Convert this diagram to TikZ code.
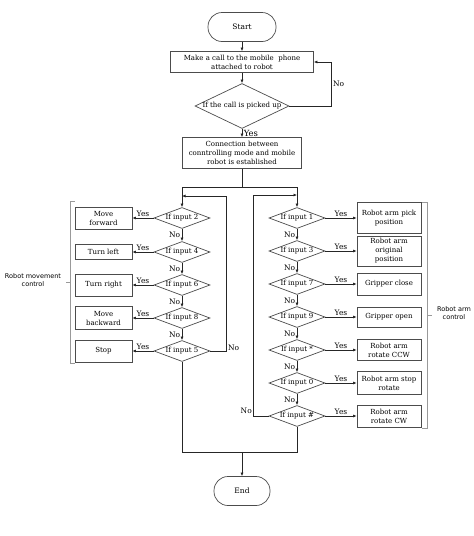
\documentclass[tikz,border=0pt]{standalone}
\usepackage{fontspec}
\setmainfont{DejaVu Serif}
\newfontfamily\sidefont{DejaVu Sans}
\usetikzlibrary{shapes.geometric, arrows.meta, positioning}

\tikzset{
  terminal/.style={draw=black!70, line width=0.7pt, rectangle, rounded corners=14pt,
    minimum width=68pt, minimum height=29pt, inner sep=0pt, font=\fontsize{7.5}{9}\selectfont},
  process/.style={draw=black!70, line width=0.7pt, rectangle, align=center, inner sep=1pt},
  decision/.style={draw=black!70, line width=0.7pt, diamond, aspect=2.7, inner sep=-3pt,
    minimum width=56pt, minimum height=21pt},
  flow/.style={draw=black!85, line width=0.65pt, -{Latex[length=3.5pt,width=3pt]}},
  link/.style={draw=black!85, line width=0.65pt},
  brace/.style={draw=black!40, line width=0.6pt},
  lbl/.style={inner sep=1.5pt, font=\fontsize{7.5}{9}\selectfont},
  side/.style={align=center, font=\sidefont\fontsize{6.5}{8.5}\selectfont}
}

\begin{document}
\begin{tikzpicture}[x=1pt, y=-1pt, font=\fontsize{7}{9}\selectfont]
\useasboundingbox (0,0) rectangle (474,536);

% Start, phone call and connection
\node[terminal] (start) at (242,27) {Start};
\node[process, minimum width=143pt, minimum height=21pt] (call) at (242,62)
  {Make a call to the mobile\ \ phone\\attached to robot};
\node[decision, aspect=2.1, minimum width=94pt, minimum height=45pt] (picked) at (242,106)
  {If the call is picked up};
\node[process, minimum width=119pt, minimum height=31pt] (conn) at (242,153)
  {Connection between\\conntrolling mode and mobile\\robot is established};

\draw[flow] (start.south) -- (call.north);
\draw[flow] (call.south) -- (picked.north);
\draw[flow] (picked.east) -- ++(42,0) |- node[pos=0.25, right, lbl]{No} (call.east);
\draw[flow] (picked.south) -- node[right, lbl, font=\fontsize{8.5}{9}\selectfont]{Yes} (conn.north);

% Split into the two branches
\coordinate (split) at (242,187);
\coordinate (lin) at (182,196);
\coordinate (rin) at (297,195);
\draw[link] (conn.south) -- (split);

% Robot movement branch
\foreach \i/\y/\n/\txt/\h in {1/218/2/{Move\\forward}/22, 2/252/4/{Turn left}/15,
    3/285/6/{Turn right}/22, 4/318/8/{Move\\backward}/23, 5/351/5/{Stop}/22} {
  \node[decision] (ld\i) at (182,\y) {If input \n};
  \node[process, minimum width=57pt, minimum height=\h pt] (lb\i) at (103.5,\y) {\txt};
  \draw[flow] (ld\i.west) -- node[above, lbl]{Yes} (lb\i.east);
}
\foreach \i [count=\j from 2] in {1,...,4}
  \draw[flow] (ld\i.south) -- node[left, lbl]{No} (ld\j.north);

% Robot arm branch
\foreach \i/\y/\n/\txt/\h in {1/218/1/{Robot arm pick\\position}/31,
    2/251/3/{Robot arm\\original\\position}/30, 3/284/7/{Gripper close}/22,
    4/317/9/{Gripper open}/20, 5/350/*/{Robot arm\\rotate CCW}/21,
    6/383/0/{Robot arm stop\\rotate}/23, 7/416/\#/{Robot arm\\rotate CW}/22} {
  \node[decision] (rd\i) at (297,\y) {If input \n};
  \node[process, minimum width=64pt, minimum height=\h pt] (rb\i) at (389,\y) {\txt};
  \draw[flow] (rd\i.east) -- node[above, lbl]{Yes} (rb\i.west);
}
\foreach \i [count=\j from 2] in {1,...,6}
  \draw[flow] (rd\i.south) -- node[left, lbl]{No} (rd\j.north);

% Entries and loops back
\draw[flow] (split) -| (ld1.north);
\draw[flow] (split) -| (rd1.north);
\draw[flow] (ld5.east) -- ++(16,0) node[right, lbl, yshift=3pt]{No} |- (lin);
\draw[flow] (rd7.west) -- ++(-15,0) node[left, lbl, yshift=5pt]{No} |- (rin);

% Merge and end
\coordinate (merge) at (242,452);
\node[terminal, minimum width=56pt] (end) at (242,491) {End};
\draw[link] (ld5.south) |- (merge);
\draw[link] (rd7.south) |- (merge);
\draw[flow] (merge) -- (end.north);

% Group brackets
\draw[brace] (75,201) -- (70,201) -- (70,363) -- (75,363);
\draw[brace] (70,282) -- (66,282);
\node[side] (lgroup) at (33,280) {Robot movement\\control};
\draw[brace] (422,202) -- (427,202) -- (427,428) -- (422,428);
\draw[brace] (427,315) -- (432,315);
\node[side] (rgroup) at (454,313) {Robot arm\\control};
\end{tikzpicture}
\end{document}
